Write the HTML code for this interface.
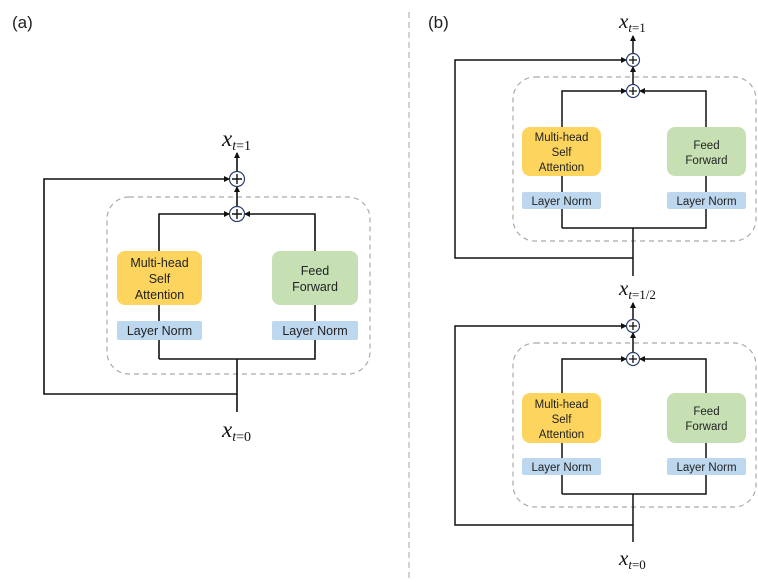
<!DOCTYPE html>
<html><head><meta charset="utf-8"><style>
body{margin:0;background:#fff}
svg{display:block}
.t{font-family:"Liberation Sans",sans-serif;fill:#222;text-anchor:middle}
.m{font-family:"Liberation Serif",serif;font-style:italic;fill:#111}
</style></head><body>
<svg width="758" height="582" viewBox="0 0 758 582" xmlns="http://www.w3.org/2000/svg">
<defs><marker id="a" markerWidth="6" markerHeight="6" refX="5" refY="3" orient="auto" markerUnits="userSpaceOnUse"><path d="M0,0 L6,3 L0,6 z" fill="#111"/></marker></defs>
<text x="12" y="28" font-family="Liberation Sans,sans-serif" font-size="17" fill="#222">(a)</text>
<text x="428" y="28" font-family="Liberation Sans,sans-serif" font-size="17" fill="#222">(b)</text>
<line x1="409" y1="12" x2="409" y2="578" stroke="#bbb" stroke-width="1.3" stroke-dasharray="6,4"/>

<!-- Panel a -->
<g stroke="#111" stroke-width="1.6" fill="none">
<rect x="107" y="197" width="263" height="177" rx="22" stroke="#aaa" stroke-width="1.2" stroke-dasharray="5,4"/>
<path d="M237,394 H44 V179 H229" marker-end="url(#a)"/>
<path d="M237,412 V359"/>
<path d="M159,359 H315 V214 H245" marker-end="url(#a)"/>
<path d="M159,359 V214 H229" marker-end="url(#a)"/>
<path d="M237,221 V187" marker-end="url(#a)"/>
<path d="M237,172 V153" marker-end="url(#a)"/>
</g>
<rect x="117" y="251" width="85" height="54" rx="8" fill="#fdd55e"/>
<rect x="272" y="251" width="86" height="54" rx="8" fill="#c6e0b4"/>
<rect x="117" y="321" width="85" height="19" rx="2" fill="#bdd7ee"/>
<rect x="272" y="321" width="86" height="19" rx="2" fill="#bdd7ee"/>
<g class="t" font-size="12.5">
<text x="159.5" y="267">Multi-head</text><text x="159.5" y="283">Self</text><text x="159.5" y="299">Attention</text>
<text x="315" y="275">Feed</text><text x="315" y="291">Forward</text>
<text x="159.5" y="335">Layer Norm</text><text x="315" y="335">Layer Norm</text>
</g>
<g fill="#fff" stroke="#2c3e6a" stroke-width="1.2"><circle cx="237" cy="179" r="7.5"/><circle cx="237" cy="214" r="7.5"/></g>
<g stroke="#111" stroke-width="1.4"><path d="M232,179 H242 M237,174 V184 M232,214 H242 M237,209 V219"/></g>
<text class="m" x="222" y="146" font-size="23">x<tspan font-size="14" dy="4">t</tspan><tspan font-size="14" font-style="normal">=1</tspan></text>
<text class="m" x="222" y="437" font-size="23">x<tspan font-size="14" dy="4">t</tspan><tspan font-size="14" font-style="normal">=0</tspan></text>

<!-- Panel b top -->
<g stroke="#111" stroke-width="1.5" fill="none">
<rect x="513" y="77" width="243" height="164" rx="22" stroke="#aaa" stroke-width="1.2" stroke-dasharray="5,4"/>
<path d="M633,258 H455 V60 H626" marker-end="url(#a)"/>
<path d="M633,276 V228"/>
<path d="M562,228 H706 V91 H640" marker-end="url(#a)"/>
<path d="M562,228 V91 H626" marker-end="url(#a)"/>
<path d="M633,97 V67" marker-end="url(#a)"/>
<path d="M633,54 V36" marker-end="url(#a)"/>
</g>
<rect x="522" y="127" width="79" height="49" rx="8" fill="#fdd55e"/>
<rect x="667" y="127" width="79" height="49" rx="8" fill="#c6e0b4"/>
<rect x="522" y="192" width="79" height="17" rx="2" fill="#bdd7ee"/>
<rect x="667" y="192" width="79" height="17" rx="2" fill="#bdd7ee"/>
<g class="t" font-size="11.5">
<text x="561.5" y="141">Multi-head</text><text x="561.5" y="156">Self</text><text x="561.5" y="171">Attention</text>
<text x="706.5" y="149">Feed</text><text x="706.5" y="164">Forward</text>
<text x="561.5" y="205">Layer Norm</text><text x="706.5" y="205">Layer Norm</text>
</g>
<g fill="#fff" stroke="#2c3e6a" stroke-width="1.2"><circle cx="633" cy="60" r="6.5"/><circle cx="633" cy="91" r="6.5"/></g>
<g stroke="#111" stroke-width="1.3"><path d="M629,60 H637 M633,56 V64 M629,91 H637 M633,87 V95"/></g>
<text class="m" x="619" y="28" font-size="21">x<tspan font-size="13" dy="4">t</tspan><tspan font-size="13" font-style="normal">=1</tspan></text>
<text class="m" x="619" y="295" font-size="21">x<tspan font-size="13" dy="4">t</tspan><tspan font-size="13" font-style="normal">=1/2</tspan></text>

<!-- Panel b bottom -->
<g stroke="#111" stroke-width="1.5" fill="none">
<rect x="513" y="343" width="243" height="164" rx="22" stroke="#aaa" stroke-width="1.2" stroke-dasharray="5,4"/>
<path d="M633,525 H455 V326 H626" marker-end="url(#a)"/>
<path d="M633,542 V494"/>
<path d="M562,494 H706 V359 H640" marker-end="url(#a)"/>
<path d="M562,494 V359 H626" marker-end="url(#a)"/>
<path d="M633,365 V333" marker-end="url(#a)"/>
<path d="M633,320 V303" marker-end="url(#a)"/>
</g>
<rect x="522" y="393" width="79" height="50" rx="8" fill="#fdd55e"/>
<rect x="667" y="393" width="79" height="50" rx="8" fill="#c6e0b4"/>
<rect x="522" y="458" width="79" height="17" rx="2" fill="#bdd7ee"/>
<rect x="667" y="458" width="79" height="17" rx="2" fill="#bdd7ee"/>
<g class="t" font-size="11.5">
<text x="561.5" y="408">Multi-head</text><text x="561.5" y="423">Self</text><text x="561.5" y="438">Attention</text>
<text x="706.5" y="415">Feed</text><text x="706.5" y="430">Forward</text>
<text x="561.5" y="471">Layer Norm</text><text x="706.5" y="471">Layer Norm</text>
</g>
<g fill="#fff" stroke="#2c3e6a" stroke-width="1.2"><circle cx="633" cy="326" r="6.5"/><circle cx="633" cy="359" r="6.5"/></g>
<g stroke="#111" stroke-width="1.3"><path d="M629,326 H637 M633,322 V330 M629,359 H637 M633,355 V363"/></g>
<text class="m" x="619" y="565" font-size="21">x<tspan font-size="13" dy="4">t</tspan><tspan font-size="13" font-style="normal">=0</tspan></text>
</svg>
</body></html>
